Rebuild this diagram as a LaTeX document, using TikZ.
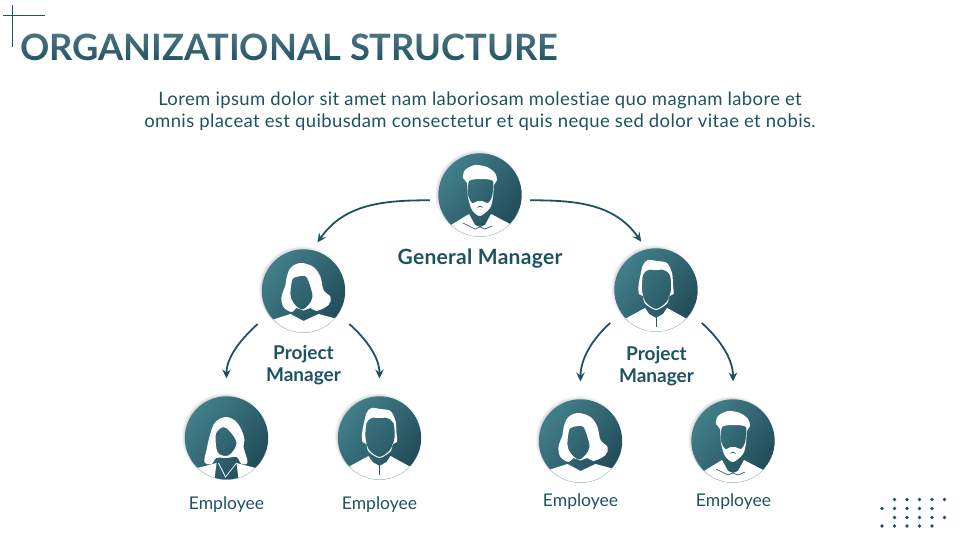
\documentclass[tikz,border=0pt]{standalone}
\usepackage{fontspec}
\setmainfont[Ligatures=NoCommon]{Lato}
\usepackage{xcolor}
\usetikzlibrary{shadows,fadings,arrows.meta}
\definecolor{deepteal}{HTML}{1F5261}
\definecolor{lightteal}{HTML}{417F8A}
\definecolor{darkteal}{HTML}{224B59}
% figures, drawn round the centre of a circle of radius 42
\newcommand{\rimarc}{\draw[draw=lightteal!55, line width=.4pt] (20:41.7) arc [start angle=20, end angle=160, radius=41.7];}
\tikzset{
  pics/beardman/.style={code={
    \begin{scope}
    \clip (0,0) circle (41.7);
    \fill[white] (-34,33) -- (-11,19) -- (-5,30) -- (0,32) -- (5,30) -- (11,19) -- (34,31) -- (50,60) -- (-50,60) -- cycle;
    \draw[darkteal, line width=.6pt] (-17,28) -- (-5,34) -- (0,32) -- (5,34) -- (12,31);
    \fill[white, even odd rule] plot[smooth cycle, tension=.5] coordinates {(-17,-17) (-15,-25) (-5,-30) (7,-28) (15,-22) (17,-15) (14,-10) (13,2) (10,13) (0,21) (-8,15) (-12,2) (-13,-12)}
      plot[smooth cycle, tension=.4] coordinates {(-11,-14) (0,-16) (13,-14) (12,2) (8,8) (2,6) (-2,6) (-8,8) (-12,0)}
      plot[smooth cycle, tension=.4] coordinates {(-4,13) (0,10.5) (4,13) (0,12)};
    \rimarc
    \end{scope}
  }},
  pics/wavywoman/.style={code={
    \begin{scope}
    \clip (0,0) circle (41.7);
    \fill[white] (-32,29) -- (-13,23) -- (0,30) -- (15,23) -- (34,28) -- (50,60) -- (-50,60) -- cycle;
    \fill[white, even odd rule] plot[smooth cycle, tension=.6] coordinates {(-3,-28) (-13,-23) (-17,-13) (-18,-6) (-22,6) (-20,16) (-12,21) (-7,17) (0,19.5) (7,17) (13,20) (25,14) (27,6) (20,-1) (17,-14) (10,-24)}
      plot[smooth cycle, tension=.6] coordinates {(-12,-8) (-10,-13) (-2,-15) (3,-14) (7,-4) (9,6) (5,14) (-2,18.5) (-10,12) (-13,4)};
    \rimarc
    \end{scope}
  }},
  pics/plainman/.style={code={
    \begin{scope}
    \clip (0,0) circle (41.7);
    \fill[white] (-33,30) -- (-11,18) -- (-7,24) -- (0,28) -- (7,24) -- (11,18) -- (33,30) -- (50,60) -- (-50,60) -- cycle;
    \draw[darkteal!70!lightteal, line width=.9pt] (0,27) -- (0,37);
    \fill[white, even odd rule] plot[smooth cycle, tension=.5] coordinates {(-16,-13) (-13,-25) (-8,-30) (1,-29) (11,-27) (16,-17) (17,-5) (17.5,4) (13,6) (11.5,13) (0,20) (-11.5,13) (-13,6) (-17,4) (-17.5,-4)}
      plot[smooth cycle, tension=.5] coordinates {(-13,-15) (-8,-20) (0,-20) (8,-20) (14,-15) (15,0) (10.5,12) (0,19) (-10.5,12) (-14,0)};
    \rimarc
    \end{scope}
  }},
  pics/longwoman/.style={code={
    \begin{scope}
    \clip (0,0) circle (41.7);
    \fill[white] (-33,31) -- (-10,25) -- (-12,41) -- (-50,60) -- cycle;
    \fill[white] (33,31) -- (10,25) -- (12,41) -- (50,60) -- cycle;
    \draw[white, line width=.7pt] (-8,25) -- (-1,39) -- (10,25);
    \fill[white, even odd rule] plot[smooth cycle, tension=.6] coordinates {(-1,-21) (-11,-16) (-16,-5) (-20,12) (-22,24) (-15,26) (-10,20) (0,20) (10,19) (15,26) (21,24) (17,9) (18,2) (15,-8) (9,-17)}
      plot[smooth cycle, tension=.6] coordinates {(-11,-1) (-9,-7) (-3,-11) (4,-6) (10,5) (5,15) (-1,18) (-9,14)};
    \rimarc
    \end{scope}
  }},
}
\begin{document}
\begin{tikzpicture}[
    x=1pt, y=-1pt,
    avatar/.style={circle, minimum size=83.4pt, inner sep=0pt, outer sep=8.8pt, draw=none, left color=lightteal, right color=darkteal, shading angle=50,
      circular drop shadow={shadow xshift=-2pt, shadow yshift=2pt, shadow scale=1.04, opacity=.6}},
    link/.style={draw=deepteal, line width=1.8pt, -{Stealth[length=9pt, width=8.5pt, inset=3pt]}},
    sublink/.style={link, shorten <=6pt, shorten >=9pt},
    chief/.style={text=deepteal, font=\fontsize{21}{25}\selectfont\addfontfeature{LetterSpace=1.5}\bfseries},
    boss/.style={text=deepteal, align=center, font=\fontsize{19}{22}\selectfont\bfseries},
    staff/.style={text=deepteal, font=\fontsize{17.5}{20}\selectfont},
  ]
  \useasboundingbox (0,0) rectangle (960,540);

  % corner mark
  \draw[deepteal, line width=.8pt] (12.5,5) -- (12.5,47);
  \draw[deepteal, line width=.8pt] (3,15.5) -- (45,15.5);

  % heading
  \node [anchor=west, inner sep=0pt, text=deepteal, font=\fontsize{36.3}{40}\selectfont\bfseries] (title) at (20,47) {ORGANIZATIONAL STRUCTURE};
  \fill[white, path fading=south, fill opacity=.22] (15,30) rectangle (565,64);
  \node [align=center, inner sep=0pt, text=deepteal, font=\fontsize{18.5}{22}\selectfont\addfontfeature{LetterSpace=2}] (intro) at (480,111)
    {Lorem ipsum dolor sit amet nam laboriosam molestiae quo magnam labore et\\
     omnis placeat est quibusdam consectetur et quis neque sed dolor vitae et nobis.};

  % people
  \node [avatar] (gm) at (480,195) {};
  \node [avatar] (pml) at (303.5,291) {};
  \node [avatar] (pmr) at (656,290) {};
  \node [avatar] (ea) at (226.5,438) {};
  \node [avatar] (eb) at (379.5,438) {};
  \node [avatar] (ec) at (580.5,441) {};
  \node [avatar] (ed) at (733,441) {};

  \pic at (gm) {beardman};
  \pic at (pml) {wavywoman};
  \pic at (pmr) {plainman};
  \pic at (ea) {longwoman};
  \pic at (eb) {plainman};
  \pic at (ec) {wavywoman};
  \pic at (ed) {beardman};

  % labels
  \node [chief] (gmlabel) at (480,259) {General Manager};
  \node [boss] (pmllabel) at (303.5,365) {Project\\Manager};
  \node [boss] (pmrlabel) at (656.5,366) {Project\\Manager};
  \node [staff] (ealabel) at (226.5,505) {Employee};
  \node [staff] (eblabel) at (379.5,505) {Employee};
  \node [staff] (eclabel) at (580.5,502) {Employee};
  \node [staff] (edlabel) at (733.5,502) {Employee};

  % arrows
  \draw [link] (gm.186) to [out=180, in=55] (pml.74);
  \draw [link] (gm.-6) to [out=0, in=125] (pmr.107);
  \draw [sublink] (pml.215) to [out=222, in=90] (ea.north);
  \draw [sublink] (pml.-35) to [out=-42, in=90] (eb.north);
  \draw [sublink] (pmr.215) to [out=222, in=90] (ec.north);
  \draw [sublink] (pmr.-35) to [out=-42, in=90] (ed.north);

  % dots
  \foreach \rowy/\shift in {499.5/12.5, 508.5/0, 517.5/12.5, 526/0}
    \foreach \colx in {0,12.5,...,50}
      \fill[deepteal] (882+\colx+\shift,\rowy) circle (1.9);
\end{tikzpicture}
\end{document}
